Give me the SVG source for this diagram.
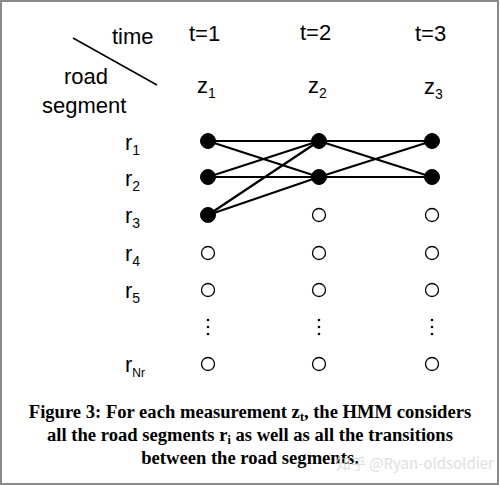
<svg xmlns="http://www.w3.org/2000/svg" width="500" height="485" viewBox="0 0 500 485">
<style>
.t{font-family:"Liberation Sans",Arial,sans-serif;font-size:22px;fill:#000}
.r{font-family:"Liberation Sans",Arial,sans-serif;font-size:22px;fill:#000}
.s{font-size:14px}
.cap{font-family:"Liberation Serif","Times New Roman",serif;font-size:18.6px;font-weight:bold;fill:#000;text-anchor:middle}
.f{fill:#000;stroke:#000}
.o{fill:#fff;stroke:#000;stroke-width:1.3}
.e{stroke:#000;stroke-width:2.2;fill:none}
.d{fill:#000}
</style>
<rect x="1" y="1" width="497" height="483" fill="#fff" stroke="#8a8a8a" stroke-width="2"/>
<g id="header">
<line x1="73" y1="38" x2="157" y2="85" stroke="#000" stroke-width="1.5"/>
<text class="t" x="112" y="44">time</text>
<text class="t" x="64" y="84">road</text>
<text class="t" x="42" y="113">segment</text>
<text class="t" x="189" y="41">t=1</text>
<text class="t" x="300" y="40">t=2</text>
<text class="t" x="415" y="41">t=3</text>
<text class="t" x="197" y="93">z<tspan class="s" dy="5">1</tspan></text>
<text class="t" x="308" y="93">z<tspan class="s" dy="5">2</tspan></text>
<text class="t" x="424" y="94">z<tspan class="s" dy="5">3</tspan></text>
</g>
<g id="rowlabels">
<text class="r" x="125" y="150">r<tspan class="s" dy="5">1</tspan></text>
<text class="r" x="125" y="186">r<tspan class="s" dy="5">2</tspan></text>
<text class="r" x="125" y="223">r<tspan class="s" dy="5">3</tspan></text>
<text class="r" x="125" y="261">r<tspan class="s" dy="5">4</tspan></text>
<text class="r" x="125" y="298">r<tspan class="s" dy="5">5</tspan></text>
<text class="r" x="125" y="372">r<tspan style="font-size:12px" dy="5">Nr</tspan></text>
</g>
<g id="connectors">
<line class="e" x1="208" y1="141" x2="319" y2="141"/>
<line class="e" x1="208" y1="141" x2="319" y2="177"/>
<line class="e" x1="208" y1="177" x2="319" y2="141"/>
<line class="e" x1="208" y1="177" x2="319" y2="177"/>
<line class="e" x1="208" y1="215" x2="319" y2="141"/>
<line class="e" x1="208" y1="215" x2="319" y2="177"/>
<line class="e" x1="319" y1="141" x2="432" y2="141"/>
<line class="e" x1="319" y1="141" x2="432" y2="177"/>
<line class="e" x1="319" y1="177" x2="432" y2="141"/>
<line class="e" x1="319" y1="177" x2="432" y2="177"/>
</g>
<g id="col1">
<circle class="f" cx="208" cy="141" r="7.5"/>
<circle class="f" cx="208" cy="177" r="7.5"/>
<circle class="f" cx="208" cy="215" r="7.5"/>
<circle class="o" cx="208" cy="253" r="6.5"/>
<circle class="o" cx="208" cy="290" r="6.5"/>
<circle class="d" cx="208" cy="320" r="1.3"/><circle class="d" cx="208" cy="327" r="1.3"/><circle class="d" cx="208" cy="334" r="1.3"/>
<circle class="o" cx="208" cy="364" r="6.5"/>
</g>
<g id="col2">
<circle class="f" cx="319" cy="141" r="7.5"/>
<circle class="f" cx="319" cy="177" r="7.5"/>
<circle class="o" cx="319" cy="215" r="6.5"/>
<circle class="o" cx="319" cy="253" r="6.5"/>
<circle class="o" cx="319" cy="290" r="6.5"/>
<circle class="d" cx="319" cy="320" r="1.3"/><circle class="d" cx="319" cy="327" r="1.3"/><circle class="d" cx="319" cy="334" r="1.3"/>
<circle class="o" cx="319" cy="364" r="6.5"/>
</g>
<g id="col3">
<circle class="f" cx="432" cy="141" r="7.5"/>
<circle class="f" cx="432" cy="177" r="7.5"/>
<circle class="o" cx="432" cy="215" r="6.5"/>
<circle class="o" cx="432" cy="253" r="6.5"/>
<circle class="o" cx="432" cy="290" r="6.5"/>
<circle class="d" cx="432" cy="320" r="1.3"/><circle class="d" cx="432" cy="327" r="1.3"/><circle class="d" cx="432" cy="334" r="1.3"/>
<circle class="o" cx="432" cy="364" r="6.5"/>
</g>
<g id="caption">
<text class="cap" x="250" y="418">Figure 3: For each measurement z<tspan style="font-size:12px" dy="3">t</tspan><tspan dy="-3">, the HMM considers</tspan></text>
<text class="cap" x="250" y="441">all the road segments r<tspan style="font-size:12px" dy="3">i</tspan><tspan dy="-3"> as well as all the transitions</tspan></text>
<text class="cap" x="250" y="464">between the road segments.</text>
<text x="336" y="469" style="font-family:'Noto Sans CJK SC','Liberation Sans',sans-serif;font-size:15px;fill:#dcdcdc;opacity:0.9">知乎 @Ryan-oldsoldier</text>
</g>
</svg>
